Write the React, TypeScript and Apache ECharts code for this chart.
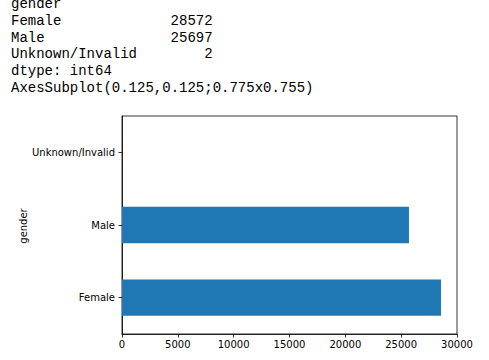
import React, { useEffect, useRef } from "react";
import * as echarts from "echarts";

const categories = ["Female", "Male", "Unknown/Invalid"];
const counts = [28572, 25697, 2];
const headerLines = ["gender"];
const footerLines = ["dtype: int64", "AxesSubplot(0.125,0.125;0.775x0.755)"];
const xTicks = { min: 0, max: 30000, interval: 5000 };

export default function App() {
  const ref = useRef<HTMLDivElement>(null);
  useEffect(() => {
    if (!ref.current) return;
    const chart = echarts.init(ref.current, null, { renderer: "svg" });
    const mono = "'Liberation Mono', 'Courier New', monospace";
    const lineH = 16.8;
    const top0 = 4;
    const graphics: any[] = [];
    const textStyle = (text: string, x: number, y: number, align: string) => ({
      type: "text",
      x,
      y,
      style: {
        text,
        fill: "#000",
        font: `14px ${mono}`,
        textAlign: align,
        textVerticalAlign: "middle",
      },
    });
    let row = 0;
    headerLines.forEach((t) => {
      graphics.push(textStyle(t, 11, top0 + lineH * row, "left"));
      row++;
    });
    categories.forEach((c, i) => {
      graphics.push(textStyle(c, 11, top0 + lineH * row, "left"));
      graphics.push(textStyle(String(counts[i]), 212.6, top0 + lineH * row, "right"));
      row++;
    });
    footerLines.forEach((t) => {
      graphics.push(textStyle(t, 11, top0 + lineH * row, "left"));
      row++;
    });
    graphics.push({
      type: "text",
      x: 23,
      y: 226,
      rotation: Math.PI / 2,
      style: {
        text: "gender",
        fill: "#000",
        font: "10px 'DejaVu Sans', sans-serif",
        textAlign: "center",
        textVerticalAlign: "middle",
      },
    });

    chart.setOption({
      animation: false,
      graphic: graphics,
      grid: {
        left: 122,
        right: 32,
        top: 116,
        bottom: 26,
        show: true,
        borderColor: "#000",
        borderWidth: 0.8,
        backgroundColor: "transparent",
      },
      xAxis: {
        type: "value",
        min: xTicks.min,
        max: xTicks.max,
        interval: xTicks.interval,
        splitLine: { show: false },
        axisLine: { show: true, lineStyle: { color: "#000", width: 0.8 } },
        axisTick: { show: true, length: 3.5, lineStyle: { color: "#000", width: 0.8 } },
        axisLabel: {
          color: "#000",
          fontFamily: "DejaVu Sans",
          fontSize: 10,
          margin: 5,
          formatter: (v: number) => String(v),
        },
      },
      yAxis: {
        type: "category",
        data: categories,
        axisLine: { show: true, lineStyle: { color: "#000", width: 0.8 } },
        axisTick: { show: true, alignWithLabel: true, length: 3.5, lineStyle: { color: "#000", width: 0.8 } },
        axisLabel: {
          color: "#000",
          fontFamily: "DejaVu Sans",
          fontSize: 10,
          margin: 7,
        },
      },
      series: [
        {
          type: "bar",
          data: counts,
          barWidth: "50%",
          itemStyle: { color: "#1f77b4" },
        },
      ],
    });
    return () => chart.dispose();
  }, []);
  return <div ref={ref} style={{ width: 489, height: 360, position: "absolute", left: 0, top: 0 }} />;
}
